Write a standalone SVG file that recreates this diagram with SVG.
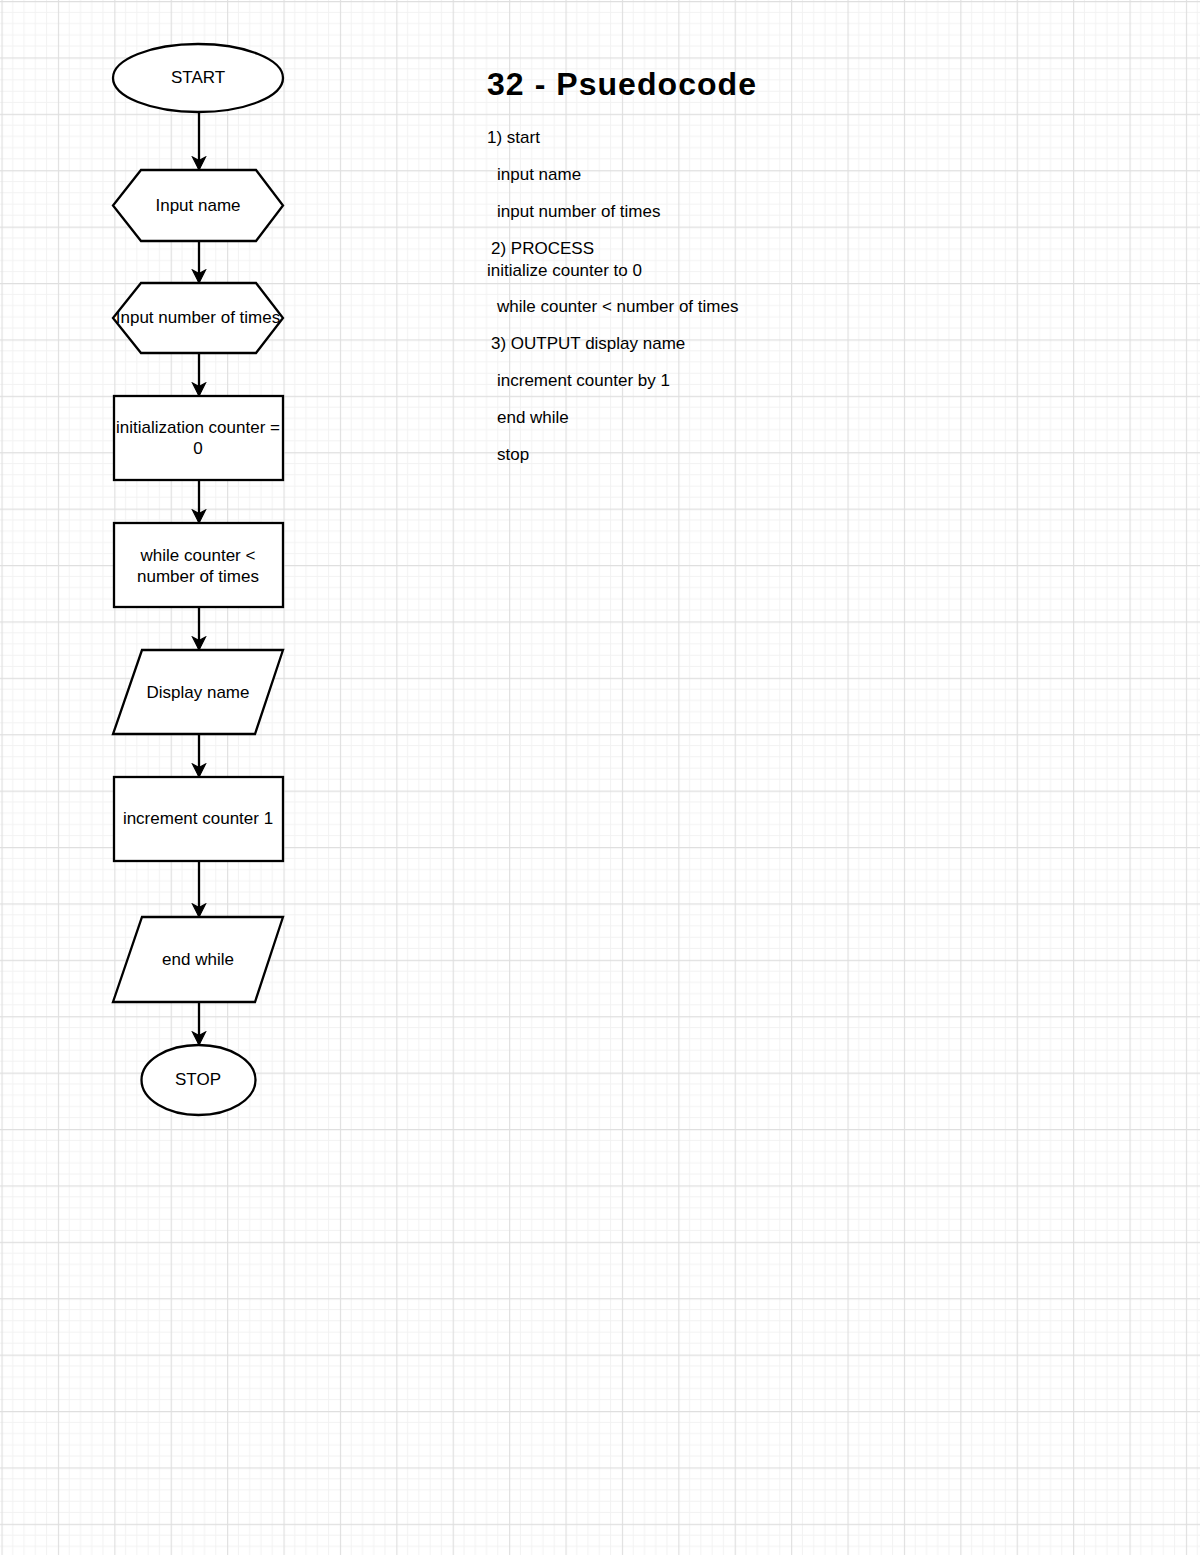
<svg xmlns="http://www.w3.org/2000/svg" width="1200" height="1555" viewBox="0 0 1200 1555">
  <defs>
    <pattern id="grid" x="1.5" y="1" width="56.4" height="56.4" patternUnits="userSpaceOnUse">
      <path d="M11.28 0V56.4M22.56 0V56.4M33.84 0V56.4M45.12 0V56.4M0 11.28H56.4M0 22.56H56.4M0 33.84H56.4M0 45.12H56.4" stroke="#f2f2f2" stroke-width="1" fill="none"/>
      <path d="M0.5 0V56.4M0 0.5H56.4" stroke="#dfdfdf" stroke-width="1.3" fill="none"/>
    </pattern>
    <marker id="arrow" markerUnits="userSpaceOnUse" markerWidth="16" markerHeight="16" refX="14" refY="8" orient="auto" viewBox="0 0 16 16">
      <path d="M14 8 L1 1.5 L4.5 8 L1 14.5 Z" fill="#000" stroke="#000" stroke-width="1.2"/>
    </marker>
    <style>
      .shape { fill: #fff; stroke: #000; stroke-width: 2.3; }
      .lbl { font-family: "Liberation Sans", Arial, sans-serif; font-size: 17px; fill: #000; text-anchor: middle; }
      .code { font-family: "Liberation Sans", Arial, sans-serif; font-size: 17px; fill: #000; }
      .title { font-family: "Liberation Sans", Arial, sans-serif; font-size: 32px; font-weight: bold; fill: #000; }
      .edge { stroke: #000; stroke-width: 2.3; fill: none; }
    </style>
  </defs>
  <rect width="1200" height="1555" fill="#fff"/>
  <rect width="1200" height="1555" fill="url(#grid)"/>

  <g id="connectors">
    <line class="edge" x1="199" y1="113" x2="199" y2="170" marker-end="url(#arrow)"/>
    <line class="edge" x1="199" y1="241" x2="199" y2="283" marker-end="url(#arrow)"/>
    <line class="edge" x1="199" y1="354" x2="199" y2="396" marker-end="url(#arrow)"/>
    <line class="edge" x1="199" y1="481" x2="199" y2="523" marker-end="url(#arrow)"/>
    <line class="edge" x1="199" y1="608" x2="199" y2="650" marker-end="url(#arrow)"/>
    <line class="edge" x1="199" y1="735" x2="199" y2="777" marker-end="url(#arrow)"/>
    <line class="edge" x1="199" y1="862" x2="199" y2="917" marker-end="url(#arrow)"/>
    <line class="edge" x1="199" y1="1003" x2="199" y2="1045" marker-end="url(#arrow)"/>
  </g>

  <g id="start">
    <ellipse class="shape" cx="198" cy="78" rx="85" ry="34"/>
    <text class="lbl" x="198" y="83">START</text>
  </g>
  <g id="input-name">
    <polygon class="shape" points="141,170 256,170 283,205.5 256,241 141,241 113,205.5"/>
    <text class="lbl" x="198" y="211">Input name</text>
  </g>
  <g id="input-times">
    <polygon class="shape" points="141,283 256,283 283,318 256,353 141,353 113,318"/>
    <text class="lbl" x="198" y="323">Input number of times</text>
  </g>
  <g id="init-counter">
    <rect class="shape" x="114" y="396" width="169" height="84"/>
    <text class="lbl" x="198" y="433">initialization counter =</text>
    <text class="lbl" x="198" y="454">0</text>
  </g>
  <g id="while">
    <rect class="shape" x="114" y="523" width="169" height="84"/>
    <text class="lbl" x="198" y="561">while counter &lt;</text>
    <text class="lbl" x="198" y="582">number of times</text>
  </g>
  <g id="display-name">
    <polygon class="shape" points="142,650 283,650 255,734 113,734"/>
    <text class="lbl" x="198" y="698">Display name</text>
  </g>
  <g id="increment">
    <rect class="shape" x="114" y="777" width="169" height="84"/>
    <text class="lbl" x="198" y="824">increment counter 1</text>
  </g>
  <g id="end-while">
    <polygon class="shape" points="142,917 283,917 255,1002 113,1002"/>
    <text class="lbl" x="198" y="965">end while</text>
  </g>
  <g id="stop">
    <ellipse class="shape" cx="198.5" cy="1080" rx="57" ry="35"/>
    <text class="lbl" x="198" y="1085">STOP</text>
  </g>

  <g id="pseudocode">
    <text class="title" x="487" y="95" textLength="269" lengthAdjust="spacing">32 - Psuedocode</text>
    <text class="code" x="487" y="143">1) start</text>
    <text class="code" x="497" y="180">input name</text>
    <text class="code" x="497" y="217">input number of times</text>
    <text class="code" x="491" y="254">2) PROCESS</text>
    <text class="code" x="487" y="276">initialize counter to 0</text>
    <text class="code" x="497" y="312">while counter &lt; number of times</text>
    <text class="code" x="491" y="349">3) OUTPUT display name</text>
    <text class="code" x="497" y="386">increment counter by 1</text>
    <text class="code" x="497" y="423">end while</text>
    <text class="code" x="497" y="460">stop</text>
  </g>
</svg>
